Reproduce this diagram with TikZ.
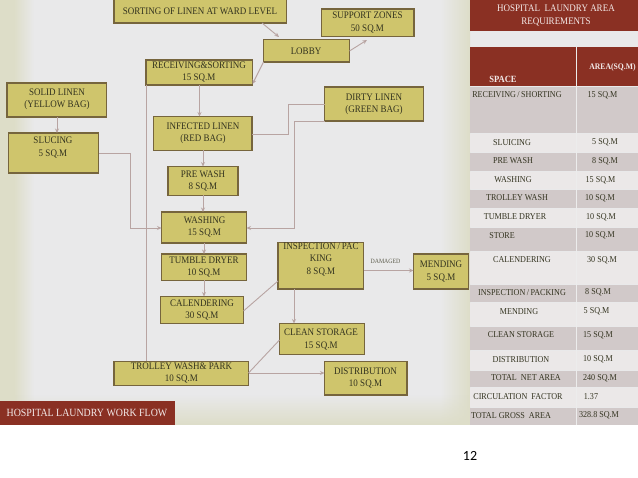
\documentclass[tikz,border=0pt]{standalone}
\usepackage{fontspec}
\setmainfont[FakeStretch=0.9]{Liberation Serif}
\newfontfamily\pagefont{Carlito}
\usetikzlibrary{arrows.meta,fadings}
\definecolor{slide}{HTML}{E9E9EA}
\definecolor{beige}{HTML}{DDDDC8}
\definecolor{boxfill}{HTML}{CFC56C}
\definecolor{boxedge}{HTML}{76653D}
\definecolor{brick}{HTML}{8A3023}
\definecolor{rowdark}{HTML}{D1C9C9}
\definecolor{rowlight}{HTML}{EBE8E8}
\definecolor{linkcol}{HTML}{B8A4A2}
\definecolor{ink}{HTML}{33331F}
\tikzset{
  x=1pt,y=-1pt,
  flowbox/.style={draw=boxedge,fill=boxfill,line width=1.1pt,inner sep=0pt,outer sep=0pt},
  flowtext/.style={text=ink,align=center,inner sep=0pt,font=\fontsize{10}{12.3}\selectfont},
  link/.style={draw=linkcol,line width=0.9pt},
  arrowlink/.style={link,-{Stealth[length=4.5pt,width=4pt]}},
  celltext/.style={text=ink,inner sep=0pt,font=\fontsize{9}{11}\selectfont},
  headtext/.style={text=white!90!brick,align=center,inner sep=0pt,font=\fontsize{10}{13}\selectfont},
}
% name, x1, y1, x2, y2, text x, text y, text
\newcommand\flowbox[8]{%
  \pgfmathsetmacro\bw{#4-#2}\pgfmathsetmacro\bh{#5-#3}%
  \pgfmathsetmacro\cx{(#2+#4)/2}\pgfmathsetmacro\cy{(#3+#5)/2}%
  \node[flowbox,minimum width=\bw pt,minimum height=\bh pt] (#1) at (\cx,\cy) {};
  \node[flowtext] (#1-t) at (#6,#7) {#8};
}
% row: y1, y2, fill
\newcommand\tablerow[3]{\fill[#3] (470,#1) rectangle (638,#2);}
% name suffix, left x, y, left text, right x, right text
\newcommand\tablecells[6]{%
  \node[celltext] (sp#1) at (#2,#3) {#4};
  \node[celltext] (ar#1) at (#5,#3) {#6};
}
\begin{document}
\begin{tikzpicture}
\useasboundingbox (0,0) rectangle (638,478);
\fill[white] (0,0) rectangle (638,478);
% slide background
\fill[slide] (0,0) rectangle (638,425);
\fill[beige] (0,0) rectangle (14,425);
\shade[left color=beige,right color=slide] (14,0) rectangle (34,425);
\shade[left color=slide,right color=beige] (440,0) rectangle (470,425);
\fill[beige,path fading=north] (0,395) rectangle (470,425);
% right title
\fill[brick] (470,0) rectangle (638,31);
\node[headtext] (areatitle) at (556,15.5) {HOSPITAL\ \ LAUNDRY AREA\\REQUIREMENTS};
% table
\fill[brick] (470,47) rectangle (638,86);
\tablerow{87}{133}{rowdark}
\tablerow{134}{152}{rowlight}
\tablerow{153}{171}{rowdark}
\tablerow{172}{189.5}{rowlight}
\tablerow{190.5}{208}{rowdark}
\tablerow{209}{227}{rowlight}
\tablerow{228}{251}{rowdark}
\tablerow{252}{284}{rowlight}
\tablerow{285}{302}{rowdark}
\tablerow{303}{326.5}{rowlight}
\tablerow{327.5}{350}{rowdark}
\tablerow{351}{370}{rowlight}
\tablerow{371}{387.5}{rowdark}
\tablerow{388.5}{407.5}{rowlight}
\tablerow{408.5}{425}{rowdark}
\draw[white!85!gray,line width=0.7pt] (576.5,47) -- (576.5,425);
\node[headtext,font=\fontsize{9.5}{11}\bfseries\selectfont] (hspace) at (503,79) {SPACE};
\node[headtext,font=\fontsize{8.5}{11}\bfseries\selectfont] (harea) at (612.5,67) {AREA(SQ.M)};
\tablecells{a}{517}{95}{RECEIVING\,/\,SHORTING}{602.5}{15 SQ.M}
\tablecells{b}{512}{142.5}{SLUICING}{605}{5 SQ.M}
\tablecells{c}{513}{161}{PRE WASH}{605}{8 SQ.M}
\tablecells{d}{513}{180}{WASHING}{600.5}{15 SQ.M}
\tablecells{e}{517}{198}{TROLLEY WASH}{600}{10 SQ.M}
\tablecells{f}{515}{217}{TUMBLE DRYER}{601}{10 SQ.M}
\tablecells{g}{502}{235.5}{STORE}{600}{10 SQ.M}
\tablecells{h}{522}{260}{CALENDERING}{602}{30 SQ.M}
\tablecells{i}{522}{292.5}{INSPECTION\,/\,PACKING}{598}{8 SQ.M}
\tablecells{j}{519}{311.5}{MENDING}{596.5}{5 SQ.M}
\tablecells{k}{521}{335}{CLEAN STORAGE}{598}{15 SQ.M}
\tablecells{l}{521}{359.5}{DISTRIBUTION}{598}{10 SQ.M}
\tablecells{m}{526}{378}{TOTAL\ \ NET AREA}{600}{240 SQ.M}
\tablecells{n}{518}{396.5}{CIRCULATION\ \ FACTOR}{591}{1.37}
\tablecells{o}{511}{415.5}{TOTAL GROSS\ \ AREA}{599}{328.8 SQ.M}
% flow boxes
\flowbox{sorting}{114}{-2}{286.5}{23}{200}{11}{SORTING OF LINEN AT WARD LEVEL}
\flowbox{support}{321.5}{9}{414}{36.5}{367.5}{22.5}{SUPPORT ZONES\\50 SQ.M}
\flowbox{lobby}{263.5}{39.5}{349.5}{62}{306}{51}{LOBBY}
\flowbox{recv}{146}{60}{252.5}{85}{199}{72}{RECEIVING\&SORTING\\15 SQ.M}
\flowbox{solid}{7}{83}{106.5}{117}{57}{99.5}{SOLID LINEN\\(YELLOW BAG)}
\flowbox{slucing}{8.5}{133}{98.5}{173}{53}{147.5}{SLUCING\\5 SQ.M}
\flowbox{infected}{153.5}{116.5}{252}{150.5}{203}{133.5}{INFECTED LINEN\\(RED BAG)}
\flowbox{prewash}{168}{166.5}{238}{195.5}{203}{181}{PRE WASH\\8 SQ.M}
\flowbox{dirty}{324.5}{87}{423.5}{121}{374}{104}{DIRTY LINEN\\(GREEN BAG)}
\flowbox{washing}{161.5}{212}{246.5}{243}{204.5}{227}{WASHING\\15 SQ.M}
\flowbox{tumble}{161.5}{254}{246.5}{280.5}{204}{267}{TUMBLE DRYER\\10 SQ.M}
\flowbox{calender}{160.5}{296.5}{243.5}{323.5}{202}{310}{CALENDERING\\30 SQ.M}
\flowbox{trolley}{114}{361.5}{248.5}{385.5}{181.5}{373}{TROLLEY WASH\& PARK\\10 SQ.M}
\flowbox{inspect}{278}{242.5}{363.5}{289}{321}{259.5}{INSPECTION\,/\,PAC\\KING\\8 SQ.M}
\flowbox{mending}{413.5}{254}{468.5}{289}{441}{271.5}{MENDING\\5 SQ.M}
\flowbox{clean}{279.5}{323.5}{364.5}{354.5}{321}{339.5}{CLEAN STORAGE\\15 SQ.M}
\flowbox{distrib}{324.5}{361.5}{407}{395}{365.5}{378}{DISTRIBUTION\\10 SQ.M}
% waypoints
\coordinate (p1) at (262,23);
\coordinate (p2) at (279,37);
\coordinate (p3) at (349.5,51);
\coordinate (p4) at (367,40);
\coordinate (p5) at (263.5,62);
\coordinate (p6) at (252.5,84);
\coordinate (v1) at (199.5,0);
\coordinate (v2) at (146,0);
\coordinate (v3) at (57,0);
\coordinate (v4) at (130,153.5);
\coordinate (v5) at (130,228);
\coordinate (v6) at (203,0);
\coordinate (v7) at (204,0);
\coordinate (d1) at (288.5,104);
\coordinate (d2) at (288.5,134);
\coordinate (d3) at (294,121);
\coordinate (d4) at (294,228);
\coordinate (q1) at (243.5,311);
\coordinate (q2) at (278,281);
\coordinate (q3) at (294,0);
\coordinate (q4) at (0,270.5);
\coordinate (q5) at (248.5,373);
\coordinate (q6) at (279.5,340);
% connectors
\draw[arrowlink] (p1) -- (p2);
\draw[arrowlink] (p3) -- (p4);
\draw[arrowlink] (p5) -- (p6);
\draw[arrowlink] (recv.south -| v1) -- (infected.north -| v1);
\draw[link] (recv.south -| v2) -- (trolley.north -| v2);
\draw[arrowlink] (solid.south -| v3) -- (slucing.north -| v3);
\draw[arrowlink] (slucing.east |- v4) -- (v4) -- (v5) -- (washing.west |- v5);
\draw[arrowlink] (infected.south -| v6) -- (prewash.north -| v6);
\draw[arrowlink] (prewash.south -| v6) -- (washing.north -| v6);
\draw[arrowlink] (washing.south -| v7) -- (tumble.north -| v7);
\draw[arrowlink] (tumble.south -| v7) -- (calender.north -| v7);
\draw[link] (dirty.west |- d1) -- (d1) -- (d2) -- (infected.east |- d2);
\draw[arrowlink] (dirty.west |- d3) -- (d3) -- (d4) -- (washing.east |- d4);
\draw[link] (q1) -- (q2);
\draw[arrowlink] (inspect.south -| q3) -- (clean.north -| q3);
\draw[arrowlink] (inspect.east |- q4) -- node[pos=0.44,above=6pt,text=ink!80,inner sep=0pt,font=\fontsize{6.5}{8}\selectfont] (damaged) {DAMAGED} (mending.west |- q4);
\draw[link] (q5) -- (q6);
\draw[arrowlink] (q5) -- (distrib.west |- q5);
% footer
\fill[brick] (0,401) rectangle (174.5,425);
\node[headtext,font=\fontsize{11}{13}\selectfont] (flowtitle) at (87,413) {HOSPITAL LAUNDRY WORK FLOW};
\node[text=black,inner sep=0pt,font=\pagefont\fontsize{14}{16}\selectfont] (pagenum) at (470,456) {12};
\end{tikzpicture}
\end{document}
